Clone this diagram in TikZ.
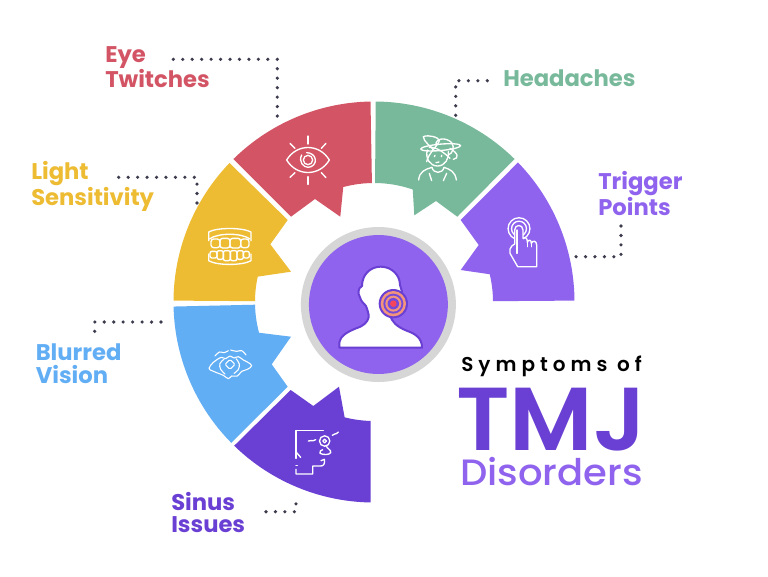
\documentclass[tikz,border=0pt]{standalone}
\usepackage{fontspec}
\setmainfont{Poppins}
\newfontfamily\popsemi{Poppins SemiBold}
\newfontfamily\popmed{Poppins Medium}
\definecolor{cRed}{HTML}{D35565}
\definecolor{cYel}{HTML}{EDBC33}
\definecolor{cGrn}{HTML}{77B99A}
\definecolor{cPur}{HTML}{8F63EE}
\definecolor{cBlu}{HTML}{62AEF5}
\definecolor{cDrk}{HTML}{6A3FD3}
\definecolor{cDot}{HTML}{3C3C4E}
\definecolor{cGry}{HTML}{D6D6D6}
\definecolor{cOrg}{HTML}{F2957C}
\definecolor{cTgt}{HTML}{F5455C}
\newcommand\arcO[2]{plot[domain=#1:#2,samples=61,variable=\t] ({374+200.5*cos(\t)},{302+200.5*sin(\t)})}
\newcommand\arcI[2]{-- plot[domain=#1:#2,samples=25,variable=\t] ({374+119*cos(\t)},{302+119*sin(\t)})}
\tikzset{
 leader/.style={draw=cDot,line width=2.7pt,line cap=round,dash pattern=on 0pt off 7.09pt},
 icon/.style={draw=white,line width=1pt,line cap=round,line join=round},
 lab/.style={anchor=base west,inner sep=0pt,align=left,font=\fontsize{17}{16.8}\selectfont\bfseries},
 zA/.style={shift={(160,90)},x=0.25pt,y=-0.25pt},
 zB/.style={shift={(370,90)},x=0.25pt,y=-0.25pt},
 zC/.style={shift={(160,300)},x=0.25pt,y=-0.25pt},
 zD/.style={shift={(290,220)},x=0.25pt,y=-0.25pt},
}
\begin{document}
\begin{tikzpicture}[x=0.75pt,y=-0.75pt]
\path[use as bounding box,fill=white] (0,0) rectangle (768,576);
% labels
\node[lab,text=cRed] (eye) at (105,87.7) {Eye\\Twitches};
\node[lab,text=cYel] (light) at (31,205) {Light\\Sensitivity};
\node[lab,text=cGrn] (head) at (503,86.7) {Headaches};
\node[lab,text=cPur] (trig) at (598,215.5) {Trigger\\Points};
\node[lab,text=cBlu] (blur) at (35.5,383.3) {Blurred\\Vision};
\node[lab,text=cDrk] (sinus) at (171,532.7) {Sinus\\Issues};
% leaders
\coordinate (e1) at (173.3,59.3); \coordinate (e2) at (277.3,59.3); \coordinate (e3) at (277.3,125);
\coordinate (l1) at (118.7,177.3); \coordinate (l2) at (197,177.3); \coordinate (l3) at (197,207);
\coordinate (h1) at (487.3,80.7); \coordinate (h2) at (455.7,80.7); \coordinate (h3) at (455.7,118);
\coordinate (t1) at (621,226); \coordinate (t2) at (621,256.7); \coordinate (t3) at (575.7,256.7);
\coordinate (b1) at (161,322); \coordinate (b2) at (94.7,322); \coordinate (b3) at (94.7,333);
\coordinate (s1) at (266,511.7); \coordinate (s2) at (296,511.7); \coordinate (s3) at (296,496);
\draw[leader] (e1) -- (e2) -- (e3);
\draw[leader] (l1) -- (l2) -- (l3);
\draw[leader] (h1) -- (h2) -- (h3);
\draw[leader] (t1) -- (t2) -- (t3);
\draw[leader] (b1) -- (b2) -- (b3);
\draw[leader] (s1) -- (s2) -- (s3);
% wedges
\fill[cRed] \arcO{269}{225.5} -- (291,216.7) -- (315,199) -- (340.3,216.7) -- (343.3,186.7) \arcI{255.1}{269} -- cycle;
\fill[cYel] \arcO{180.4}{223.9} -- (287.7,220) -- (270.3,244.3) -- (291,271.7) -- (257.3,276.7) \arcI{192.2}{180.4} -- cycle;
\fill[cGrn] \arcO{270.5}{314.5} -- (457.3,216.7) -- (436,201) -- (414.3,215.3) -- (412.7,189) \arcI{288.9}{270.5} -- cycle;
\fill[cPur] \arcO{315.9}{359.6} \arcI{359.6}{346.5} -- (460.7,270) -- (478.7,245) -- (460.7,220) -- cycle;
\fill[cBlu] \arcO{178.7}{135.4} -- (287.7,386.7) -- (271.7,364.3) -- (291,336.7) -- (258.7,332.7) \arcI{165.1}{178.7} -- cycle;
\fill[cDrk] \arcO{134.2}{91} \arcI{91.6}{104.3} -- (339,386.7) -- (313.3,406) -- (290.7,390) -- cycle;
% centre
\node[circle,fill=cGry,minimum size=116.25pt,inner sep=0pt] (ring) at (378.4,304.5) {};
\node[circle,fill=cPur,minimum size=104.2pt,inner sep=0pt] (disc) at (378.4,304.5) {};
\begin{scope}[zD]
\filldraw[fill=white,draw=cDrk,line width=1.5pt,line join=round]
 (148,383) -- (148,368) .. controls (152,345) and (175,335) .. (198,325) .. controls (220,318) and (232,308) .. (236,292)
 .. controls (237,283) and (233,272) .. (228,258) .. controls (222,250) and (213,245) .. (210,232)
 .. controls (203,220) and (203,205) .. (216,198) .. controls (216,165) and (240,140) .. (272,140)
 .. controls (305,140) and (330,165) .. (330,195) -- (336,215) -- (300,285) .. controls (305,305) and (320,320) .. (350,332)
 .. controls (378,342) and (396,355) .. (396,383) -- cycle;
\fill[cDrk] (310,251) circle[radius=11pt];
\fill[cOrg] (310,251) circle[radius=9.5pt];
\fill[cDrk!70!cPur] (310,251) circle[radius=7.5pt];
\fill[cOrg] (310,251) circle[radius=6pt];
\fill[cDrk!70!cPur] (310,251) circle[radius=4.3pt];
\fill[cTgt] (310,251) circle[radius=2.5pt];
\end{scope}
% eye icon
\begin{scope}[zA]
\draw[icon] (380,210) .. controls (410,160) and (478,160) .. (508,210) .. controls (478,260) and (410,260) .. (380,210) -- cycle;
\draw[icon] (444,210) circle[radius=3.5pt];
\draw[icon] (425,195) .. controls (415,215) and (430,232) .. (444,232) .. controls (458,232) and (468,220) .. (466,208) .. controls (464,195) and (452,188) .. (440,188);
\draw[icon] (444,138) -- (444,162); \draw[icon] (444,260) -- (444,283);
\draw[icon] (390,160) -- (405,175); \draw[icon] (498,160) -- (484,175);
\draw[icon] (390,262) -- (405,248); \draw[icon] (498,263) -- (484,248);
% teeth
\draw[icon] (146,452) -- (146,426) .. controls (170,412) and (248,412) .. (273,426) -- (273,452);
\draw[icon] (148,447) .. controls (175,428) and (243,428) .. (270,447);
\draw[icon,rounded corners=2pt] (153,447) rectangle (180,473);
\draw[icon,rounded corners=2pt] (180,445) rectangle (210,474);
\draw[icon,rounded corners=2pt] (210,445) rectangle (242,474);
\draw[icon,rounded corners=2pt] (242,447) rectangle (267,473);
\draw[icon,rounded corners=1.5pt] (150,484) rectangle (171,504);
\draw[icon,rounded corners=1.5pt] (171,482) rectangle (190,508);
\draw[icon,rounded corners=1.5pt] (190,482) rectangle (211,512);
\draw[icon,rounded corners=1.5pt] (211,482) rectangle (231,512);
\draw[icon,rounded corners=1.5pt] (231,482) rectangle (250,508);
\draw[icon,rounded corners=1.5pt] (250,484) rectangle (268,504);
\draw[icon] (146,492) -- (146,512) .. controls (170,527) and (248,527) .. (273,512) -- (273,492);
\end{scope}
% green head
\begin{scope}[zB]
\draw[icon] (146,270) .. controls (148,245) and (165,238) .. (186,232) .. controls (190,252) and (218,252) .. (222,232) .. controls (240,238) and (256,245) .. (259,270);
\draw[icon] (178,250) -- (185,272); \draw[icon] (230,250) -- (220,272);
\draw[icon] (172,180) .. controls (165,205) and (180,228) .. (203,228) .. controls (225,228) and (238,205) .. (235,185);
\draw[icon] (178,172) .. controls (200,170) and (225,190) .. (240,205);
\draw[icon] (198,165) .. controls (195,145) and (228,140) .. (245,158) .. controls (255,172) and (248,190) .. (235,195);
\draw[icon,rotate around={5:(212,172)}] (212,172) ellipse[x radius=15pt,y radius=2.4pt];
\draw[icon] (160,140) .. controls (175,133) and (208,142) .. (208,152) .. controls (205,165) and (175,190) .. (170,215);
\draw[icon] (160,140) .. controls (160,155) and (185,170) .. (190,180);
\draw[icon] (240,175) .. controls (265,190) and (268,205) .. (250,208);
\draw[icon] (195,196) -- (193,200); \draw[icon] (215,196) -- (214,200); \draw[icon] (198,218) -- (207,216);
% hand
\draw[icon] (447,416) circle[radius=8.2pt];
\draw[icon] (447,416) circle[radius=5.6pt];
\fill[cPur] (434,416) rectangle (460,465);
\draw[icon] (420,490) -- (420,477) .. controls (422,470) and (430,463) .. (434,462) -- (434,420) .. controls (434,402) and (459,402) .. (459,420) -- (459,445)
 .. controls (468,440) and (472,445) .. (472,457) .. controls (475,448) and (484,448) .. (484,460) .. controls (488,450) and (500,452) .. (500,465)
 -- (500,530) -- (443,530) -- (420,490);
\draw[icon] (441,420) -- (441,490);
\draw[icon] (472,457) -- (472,470); \draw[icon] (484,460) -- (484,470);
\end{scope}
% blurred eye + profile
\begin{scope}[zC]
\draw[icon,line width=.8pt] plot[smooth cycle,tension=.7] coordinates {(147,205) (160,187) (172,178) (185,172) (197,176) (210,168) (222,174) (235,170) (250,180) (262,186) (275,197) (262,208) (245,214) (232,228) (215,228) (205,236) (190,226) (170,218) (158,213)};
\draw[icon,line width=.8pt] plot[smooth,tension=.7] coordinates {(165,168) (178,156) (192,158) (205,152)};
\draw[icon,line width=.8pt] plot[smooth,tension=.7] coordinates {(212,150) (230,154) (245,152) (258,165)};
\draw[icon,line width=.8pt] plot[smooth,tension=.7] coordinates {(195,222) (182,208) (180,190) (192,178)};
\draw[icon,line width=.8pt] plot[smooth,tension=.7] coordinates {(228,176) (238,192) (234,210) (222,220)};
\draw[icon,line width=.8pt,rounded corners=1pt] (210,178) -- (225,193) -- (210,208) -- (195,193) -- cycle;
\draw[icon] (490,392) -- (408,392) -- (408,475); \draw[icon] (408,497) -- (412,497); \draw[icon] (408,508) -- (408,522) -- (458,522) -- (458,498) -- (482,498) .. controls (492,498) and (495,490) .. (493,478) -- (483,482);
\draw[icon] (410,458) -- (422,472);
\draw[icon] (499,438) .. controls (500,445) and (515,450) .. (512,458) .. controls (508,465) and (490,465) .. (480,460) .. controls (478,455) and (482,450) .. (488,449);
\draw[icon] (494,423) circle[radius=3.9pt];
\draw[icon] (494,423) circle[radius=1.4pt];
\draw[icon] (445,423) .. controls (452,417) and (455,427) .. (467,419);
\draw[icon] (517,406) .. controls (523,397) and (526,407) .. (535,396);
\end{scope}
% title
\node[anchor=base west,inner sep=0pt,text depth=0pt,font=\fontsize{15}{15}\popsemi\addfontfeatures{LetterSpace=25}] (t1n) at (461,371.7) {Symptoms of};
\node[anchor=base west,inner sep=0pt,text depth=0pt,text=cDrk,font=\fontsize{67}{67}\popsemi\addfontfeatures{FakeStretch=1.04}] (t2n) at (456,450) {TMJ};
\node[anchor=base west,inner sep=0pt,text depth=0pt,text=cPur,font=\fontsize{27.5}{27.5}\popmed\addfontfeatures{FakeStretch=1.05}] (t3n) at (460,485) {Disorders};
\end{tikzpicture}
\end{document}
